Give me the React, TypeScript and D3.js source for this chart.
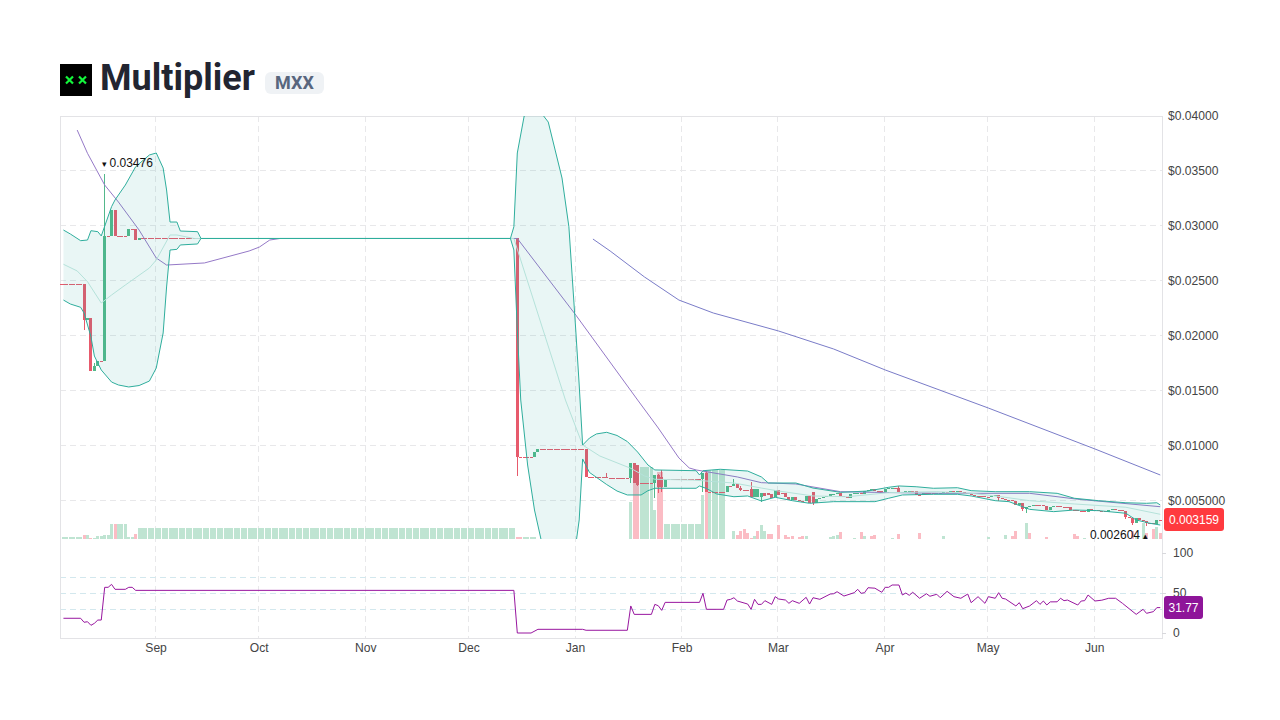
import React, { useEffect, useRef } from "react";
import * as d3 from "d3";

const rep = (v: number, n: number): number[] => Array(n).fill(v);

// one entry per day, day 0 is 4 Aug
const closes = [
  ...rep(0.02465, 7), 0.02141, 0.02159, 0.01677, 0.01722, 0.01768, 0.01768, 0.02907, 0.02907, 0.03144, 0.02907,
  0.02907, 0.02907, 0.02907, 0.0297, 0.0297, 0.0287, ...rep(0.02884, 110),
  0.00893, ...rep(0.00893, 4), 0.00938, 0.00966, ...rep(0.00966, 13), 0.00711, ...rep(0.00711, 5), 0.00699,
  ...rep(0.00699, 6), 0.00838, 0.00656, 0.00638, ...rep(0.00653, 4), 0.00729, 0.0062, 0.0062, 0.00692,
  ...rep(0.00692, 10), 0.0075, 0.00577, ...rep(0.00577, 5), 0.00629, 0.00629, 0.00651, 0.00606, 0.00592, 0.00588,
  0.00583, 0.00526, 0.00599, 0.00599, 0.00564, 0.00538, 0.00544, 0.0052, 0.00591, 0.00546, 0.00555, 0.00531, 0.005,
  0.00531, 0.005, 0.00495, 0.00491, 0.00541, 0.00473, 0.00473, 0.00509, 0.00518, 0.00527, 0.00536, 0.00555, 0.00559,
  0.00564, 0.00541, 0.00525, 0.00523, 0.00559, 0.00567, 0.00568, 0.00555, 0.00582, 0.00591, 0.00605, 0.00585, 0.00582,
  0.00567, 0.00605, 0.00609, 0.00614, 0.00614, 0.00567, 0.00573, 0.00582, 0.00585, 0.00585, 0.0055, 0.0055, 0.00568,
  0.00568, 0.00564, 0.00559, 0.00561, 0.00568, 0.0057, 0.0057, 0.00582, 0.00577, 0.00582, 0.00573, 0.00561, 0.00555,
  0.00543, 0.00541, 0.00541, 0.00536, 0.00525, 0.00525, 0.00541, 0.00546, 0.00515, 0.00509, 0.00505, 0.005, 0.00495,
  0.00454, 0.00473, 0.00418, 0.00436, 0.0045, 0.00454, 0.00454, 0.00454, 0.0045, 0.00409, 0.00436, 0.00445, 0.00445,
  0.00441, 0.00436, 0.00436, 0.00409, 0.00409, 0.00404, 0.004, 0.00395, 0.00418, 0.00409, 0.00409, 0.00404, 0.004,
  0.00395, 0.00409, 0.00418, 0.00413, 0.00409, 0.00404, 0.00345, 0.00336, 0.00293, 0.00336, 0.00318, 0.00309, 0.00293,
  0.00291, 0.00281, 0.00318, 0.003159,
];
// opens are the previous close except on these days
const gapDays = [168, 169, 175, 201, 203, 204, 206, 207, 208, 210, 211, 213, 219];
const gapOpens = [0.0082, 0.00653, 0.00711, 0.00599, 0.00526, 0.00527, 0.00566, 0.00556, 0.00531, 0.00566, 0.00561, 0.005, 0.00573];

const wickDays = [7, 10, 13, 133, 159, 166, 168, 173, 174, 175, 187, 188, 196, 198, 201, 204, 219, 244, 273, 280, 281, 310, 312, 313, 316];
const wickHighs = [null, 0.01749, 0.03476, null, 0.0075, null, null, null, 0.00738, 0.00775, null, 0.00765, 0.00688, 0.00629, 0.00668, null, null, 0.00632, null, null, null, null, null, null, null];
const wickLows = [0.0205, null, null, 0.0072, null, 0.00659, 0.00629, 0.00519, 0.00565, 0.00574, 0.00577, null, null, 0.00579, null, 0.00486, 0.00455, null, 0.00495, 0.004, 0.00379, 0.0033, 0.00275, 0.0029, 0.002604];

const volumes = [
  0, ...rep(1.7, 6), 3.7, 3.7, 1, 1.3, 2.7, 3.3, 3.7, 3.7, ...rep(15.3, 5), 2, 2, 5.3, ...rep(10.7, 110), ...rep(1.7, 6),
  ...rep(0.3, 27), 36.7, 73, 72, ...rep(72, 4), 29, 67, 67, ...rep(15, 11), 44, 69, ...rep(69, 5), 0.3, 0.3,
  8.3, 4.3, 7.7, 10, 6.3, 1, 3, 8.3, 14, 7.7, 5, 5, 0.3, 14, 0.3, 4.3, 2.3, 3.3, 0.3, 1.7, 3.3, 3.3, ...rep(0.3, 6),
  2.3, 3.3, 4.3, 7.3, 0.3, 0.3, 0.3, 1, 0.3, 7.3, 2.7, 0.3, 3.3, 4.3, 0.3, 0.3, 0.3, 0.3, 1, 0.3, 5, ...rep(0.3, 5), 6,
  ...rep(0.3, 6), 3.3, ...rep(0.3, 12), 2, ...rep(0.3, 4), 4, 0.3, 3.3, 7.7, 0.3, 0.3, 16.3, 5.7, ...rep(0.3, 4), 2.3,
  ...rep(0.3, 7), 5, 3, 0.3, 1, ...rep(0.3, 13), 7.7, 3, 0.3, 16, 6, 0.3, 10, 12, 5.7,
];
const redVolumeDays = [7, 9, 16, 22, 133, 134, 167, 168, 174, 175, 188, 197, 198, 199, 200, 201, 203, 206, 207, 209, 211, 212, 213, 215, 216, 227, 233, 236, 237, 244, 250, 277, 278, 282, 287, 295, 296, 312, 316, 318, 320];

const upperDays = [1, 3, 6, 8, 9, 11, 12, 15, 16, 19, 22, 26, 28, 30, 31, 32, 34, 35, 40, 41, 131, 132, 133, 135, 137, 140, 142, 144, 146, 148, 150, 151, 152, 154, 156, 159, 162, 165, 168, 171, 173, 185, 186, 187, 192, 200, 204, 206, 214, 219, 227, 235, 241, 244, 249, 254, 261, 265, 272, 282, 290, 295, 302, 310, 316, 319, 320];
const upperBand = [0.02961, 0.02925, 0.02864, 0.0287, 0.02955, 0.02946, 0.02907, 0.03174, 0.03235, 0.03371, 0.03538, 0.03645, 0.03663, 0.03526, 0.03326, 0.03034, 0.03034, 0.02952, 0.02946, 0.02884, 0.02884, 0.02991, 0.03663, 0.04, 0.04036, 0.04027, 0.03945, 0.0369, 0.03435, 0.02991, 0.0205, 0.01549, 0.01002, 0.01066, 0.01103, 0.01118, 0.01089, 0.01034, 0.00938, 0.0082, 0.00775, 0.00768, 0.00729, 0.00768, 0.00781, 0.00765, 0.00711, 0.00656, 0.00656, 0.0061, 0.00571, 0.00583, 0.00617, 0.00629, 0.00622, 0.00608, 0.00613, 0.00586, 0.00577, 0.00577, 0.00562, 0.00517, 0.00495, 0.00476, 0.00471, 0.00476, 0.00456];
const lowerDays = [1, 3, 6, 7, 9, 10, 12, 15, 17, 20, 23, 26, 28, 30, 31, 32, 34, 35, 40, 41, 131, 132, 133, 134, 136, 138, 140, 142, 146, 148, 150, 151, 152, 154, 159, 162, 165, 169, 171, 173, 185, 186, 188, 191, 196, 200, 204, 208, 213, 218, 225, 237, 241, 245, 254, 261, 265, 272, 276, 282, 289, 295, 302, 310, 313, 317, 320];
const lowerBand = [0.02323, 0.02287, 0.02257, 0.02205, 0.01989, 0.01813, 0.01686, 0.01576, 0.01549, 0.01531, 0.01544, 0.01585, 0.01704, 0.02023, 0.02442, 0.02779, 0.02785, 0.02825, 0.02834, 0.02884, 0.02884, 0.02779, 0.0205, 0.01412, 0.0082, 0.0041, 0.00128, -0.00137, -0.00273, -0.00137, 0.00091, 0.00319, 0.00875, 0.00752, 0.00642, 0.00583, 0.00547, 0.00547, 0.00586, 0.00608, 0.00608, 0.00629, 0.00606, 0.00556, 0.00531, 0.00538, 0.00492, 0.00526, 0.00495, 0.00471, 0.00486, 0.00486, 0.00517, 0.00547, 0.00553, 0.00553, 0.00538, 0.00495, 0.00486, 0.00416, 0.00395, 0.0041, 0.00404, 0.0038, 0.00319, 0.00289, 0.00273];
const middleDays = [1, 5, 8, 12, 15, 19, 26, 28, 32, 34, 39, 132, 147, 152, 157, 166, 170, 173, 184, 188, 196, 204, 209, 219, 229, 241, 255, 265, 272, 282, 295, 310, 320];
const middleBand = [0.02649, 0.02588, 0.0249, 0.02296, 0.02369, 0.0246, 0.02615, 0.02688, 0.02916, 0.02916, 0.02884, 0.02884, 0.01412, 0.01002, 0.00902, 0.0079, 0.0072, 0.0069, 0.00683, 0.00674, 0.00656, 0.0061, 0.00583, 0.00538, 0.00531, 0.00568, 0.00577, 0.00562, 0.00538, 0.00495, 0.00465, 0.00435, 0.00371];

const shortMaDays = [5, 8, 13, 17, 23, 28, 31, 42, 55, 58, 61, 64, 133, 150, 168, 174, 180, 183, 185, 197, 204, 214, 227, 237, 256, 282, 296, 320];
const shortMa = [0.03872, 0.0366, 0.03371, 0.03216, 0.02961, 0.02706, 0.02642, 0.02661, 0.0277, 0.02806, 0.0287, 0.02884, 0.02884, 0.02187, 0.01412, 0.01157, 0.00884, 0.00793, 0.00775, 0.00711, 0.00659, 0.00647, 0.00577, 0.00571, 0.00562, 0.00562, 0.00508, 0.0044];
const longMaDays = [155, 160, 170, 180, 190, 209, 225, 240, 270, 301, 320];
const longMa = [0.02879, 0.0277, 0.02533, 0.02323, 0.02205, 0.02041, 0.01877, 0.01686, 0.01339, 0.00966, 0.00729];

const rsiDays = [1, 6, 7, 8, 9, 10, 11, 12, 13, 14, 15, 16, 19, 20, 21, 22, 132, 133, 137, 139, 152, 153, 165, 166, 167, 172, 173, 174, 175, 176, 186, 187, 188, 193, 194, 195, 196, 197, 200, 201, 202, 203, 204, 205, 207, 208, 209, 211, 212, 213, 215, 217, 218, 219, 221, 224, 225, 226, 228, 231, 232, 233, 234, 235, 237, 239, 240, 241, 242, 244, 245, 246, 247, 248, 250, 252, 253, 255, 256, 258, 260, 262, 264, 265, 267, 269, 270, 272, 273, 274, 275, 278, 279, 280, 282, 284, 285, 286, 287, 288, 290, 291, 292, 293, 296, 297, 298, 299, 301, 303, 305, 307, 309, 313, 315, 316, 318, 319, 320];
const rsiValues = [18.4, 18.4, 13.4, 14.1, 9.6, 12.1, 16.2, 16.2, 57.1, 57.1, 60.8, 54.6, 54.6, 57.1, 57.1, 53.3, 53.3, 0, 0, 4.6, 4.6, 3.4, 3.4, 33.8, 23.3, 23.3, 35.8, 34.1, 28.3, 38.3, 38.3, 49.6, 29.6, 29.6, 41.2, 42, 44.1, 40, 36.2, 29.6, 42.1, 35.8, 35.8, 40.4, 35.8, 45.4, 42.5, 41.2, 37.1, 40.4, 37.1, 44.6, 36.2, 44.1, 42.1, 48.7, 49.1, 51.6, 46.2, 50.4, 54.6, 49.6, 50.4, 56.6, 56, 50.9, 57.1, 57.1, 60, 60, 47.5, 50, 47.1, 50.9, 43.4, 49.1, 45.9, 48.4, 44.1, 52.1, 45.4, 43.4, 48.7, 37.9, 45.4, 37.1, 45.4, 43.4, 50.4, 43.4, 42.5, 33.8, 37.9, 30.4, 33.8, 40.4, 35.8, 40, 35, 38.9, 39, 43.4, 40.4, 41.2, 35, 40, 40.4, 47.5, 40, 41, 43.4, 43.4, 37.1, 23.3, 29.6, 24.6, 26.7, 31.7, 31.77];

const priceTicks = [0.005, 0.01, 0.015, 0.02, 0.025, 0.03, 0.035, 0.04];
const rsiGrid = [30, 50, 70];
const rsiTicks = [0, 50, 100];
const highLabel = "0.03476";
const lowLabel = "0.002604";
const lastPriceLabel = "0.003159";
const lastRsiLabel = "31.77";

const GREEN = "#53b88b";
const RED = "#e75a6c";
const TEAL = "#2fae9d";
const AXIS_FONT = "'Liberation Sans', Arial, sans-serif";
const MONTH_SHIFT = -0.7;

const App: React.FC = () => {
  const svgRef = useRef<SVGSVGElement>(null);

  useEffect(() => {
    if (!svgRef.current) return;
    const svg = d3.select(svgRef.current);
    svg.selectAll("*").remove();

    const left = 60;
    const right = 1162;
    const top = 116;
    const priceBottom = 539;
    const bottom = 638;

    const start = new Date(2022, 7, 4);
    const dayOf = (i: number) => d3.timeDay.offset(start, i);
    const x = d3
      .scaleTime()
      .domain([start, new Date(2023, 5, 20, 12)])
      .range([left, right]);
    const xd = (i: number) => x(dayOf(i));
    const y = d3.scaleLinear().domain([0, 0.04]).range([555, top]);
    const yVol = d3.scaleLinear().domain([0, 73]).range([priceBottom, priceBottom - 73]);
    const yRsi = d3.scaleLinear().domain([0, 100]).range([633, 553]);

    svg
      .append("defs")
      .append("clipPath")
      .attr("id", "price-clip")
      .append("rect")
      .attr("x", left)
      .attr("y", top)
      .attr("width", right - left)
      .attr("height", priceBottom - top);

    // header
    svg.append("rect").attr("x", 60).attr("y", 64).attr("width", 32).attr("height", 32).attr("fill", "#000");
    [69.5, 82.5].forEach((cx) => {
      svg
        .append("path")
        .attr("d", `M${cx - 3.5},76.5L${cx + 3.5},83.5M${cx + 3.5},76.5L${cx - 3.5},83.5`)
        .attr("stroke", "#14f53c")
        .attr("stroke-width", 2.2);
    });
    svg
      .append("text")
      .attr("x", 100)
      .attr("y", 90)
      .style("font-family", "Roboto, sans-serif")
      .style("font-size", "36px")
      .style("font-weight", 700)
      .style("fill", "#222531")
      .text("Multiplier");
    svg.append("rect").attr("x", 265).attr("y", 72).attr("width", 59).attr("height", 22).attr("rx", 6).attr("fill", "#eff2f5");
    svg
      .append("text")
      .attr("x", 294.5)
      .attr("y", 89)
      .attr("text-anchor", "middle")
      .style("font-family", "Roboto, sans-serif")
      .style("font-size", "18px")
      .style("font-weight", 700)
      .style("fill", "#58667e")
      .text("MXX");

    // grid
    const months = d3.timeMonth.range(new Date(2022, 8, 1), new Date(2023, 5, 2));
    const grid = svg.append("g").attr("shape-rendering", "crispEdges");
    months.forEach((m) => {
      grid
        .append("line")
        .attr("x1", x(m) + MONTH_SHIFT)
        .attr("x2", x(m) + MONTH_SHIFT)
        .attr("y1", top)
        .attr("y2", bottom)
        .attr("stroke", "#e8e8ea")
        .attr("stroke-dasharray", "6,4");
    });
    priceTicks.forEach((t) => {
      grid
        .append("line")
        .attr("x1", left)
        .attr("x2", right)
        .attr("y1", y(t))
        .attr("y2", y(t))
        .attr("stroke", "#e8e8ea")
        .attr("stroke-dasharray", "6,4");
    });
    rsiGrid.forEach((t) => {
      grid
        .append("line")
        .attr("x1", left)
        .attr("x2", right)
        .attr("y1", yRsi(t))
        .attr("y2", yRsi(t))
        .attr("stroke", "#d3e8ee")
        .attr("stroke-dasharray", "6,4");
    });
    grid
      .append("path")
      .attr("d", `M${left},${bottom}V${top}H${right}V${bottom}Z`)
      .attr("fill", "none")
      .attr("stroke", "#e3e3e6");

    const price = svg.append("g").attr("clip-path", "url(#price-clip)");

    // volume
    price
      .append("g")
      .attr("shape-rendering", "crispEdges")
      .selectAll("rect")
      .data(volumes)
      .join("rect")
      .attr("x", (_d, i) => Math.round(xd(i) - 1.5))
      .attr("width", 3)
      .attr("y", (d) => yVol(d))
      .attr("height", (d) => priceBottom - yVol(d))
      .attr("fill", (_d, i) => (redVolumeDays.includes(i) ? "#fbbcc4" : "#bfe4d2"));

    // candles
    const openOf = (i: number) => {
      const g = gapDays.indexOf(i);
      if (g >= 0) return gapOpens[g];
      return i === 0 ? closes[0] : closes[i - 1];
    };
    const isUp = (i: number) => closes[i] > openOf(i);
    const candles = price.append("g").attr("shape-rendering", "crispEdges");
    wickDays.forEach((day, k) => {
      const hi = wickHighs[k] ?? Math.max(openOf(day), closes[day]);
      const lo = wickLows[k] ?? Math.min(openOf(day), closes[day]);
      candles
        .append("rect")
        .attr("x", Math.round(xd(day) - 0.5))
        .attr("width", 1)
        .attr("y", y(hi))
        .attr("height", y(lo) - y(hi))
        .attr("fill", isUp(day) ? GREEN : RED);
    });
    closes.forEach((c, i) => {
      const o = openOf(i);
      const y0 = Math.round(y(Math.max(o, c)));
      const y1 = Math.round(y(Math.min(o, c)));
      candles
        .append("rect")
        .attr("x", Math.round(xd(i) - 1.5))
        .attr("width", 3)
        .attr("y", y0)
        .attr("height", Math.max(1, y1 - y0))
        .attr("fill", isUp(i) ? GREEN : RED);
    });

    const line = d3
      .line<[number, number]>()
      .x((d) => xd(d[0]))
      .y((d) => y(d[1]));

    // moving averages
    price
      .append("path")
      .attr("d", line(shortMaDays.map((d, i) => [d, shortMa[i]] as [number, number])))
      .attr("fill", "none")
      .attr("stroke", "#9579c7")
      .attr("stroke-width", 1);
    price
      .append("path")
      .attr("d", line(longMaDays.map((d, i) => [d, longMa[i]] as [number, number])))
      .attr("fill", "none")
      .attr("stroke", "#7a7cc8")
      .attr("stroke-width", 1);

    // bollinger bands
    const upperPts = upperDays.map((d, i) => [d, upperBand[i]] as [number, number]);
    const lowerPts = lowerDays.map((d, i) => [d, lowerBand[i]] as [number, number]);
    price
      .append("path")
      .attr("d", `${line([...upperPts, ...lowerPts.slice().reverse()])}Z`)
      .attr("fill", "rgba(38,166,154,0.1)");
    price
      .append("path")
      .attr("d", line(middleDays.map((d, i) => [d, middleBand[i]] as [number, number])))
      .attr("fill", "none")
      .attr("stroke", "#b5e2da")
      .attr("stroke-width", 1);
    [upperPts, lowerPts].forEach((pts) => {
      price.append("path").attr("d", line(pts)).attr("fill", "none").attr("stroke", TEAL).attr("stroke-width", 1);
    });

    // high and low annotations
    const note = (tx: number, ty: number, anchor: string, s: string) =>
      svg
        .append("text")
        .attr("x", tx)
        .attr("y", ty)
        .attr("text-anchor", anchor)
        .style("font-family", AXIS_FONT)
        .style("font-size", "12px")
        .style("fill", "#111")
        .text(s);
    note(xd(13), 167, "middle", "▾").style("font-size", "9px");
    note(109.5, 167, "start", highLabel);
    note(1140, 539, "end", lowLabel);
    note(xd(316) - 1.5, 539, "middle", "▴").style("font-size", "9px");

    // rsi
    svg
      .append("path")
      .attr(
        "d",
        d3
          .line<number>()
          .x((d) => xd(d))
          .y((_d, i) => yRsi(rsiValues[i]))(rsiDays),
      )
      .attr("fill", "none")
      .attr("stroke", "#98169f")
      .attr("stroke-width", 1);

    // axes
    const priceAxis = svg
      .append("g")
      .attr("transform", `translate(${right},0)`)
      .call(
        d3
          .axisRight(y)
          .tickValues(priceTicks)
          .tickSize(0)
          .tickPadding(6)
          .tickFormat((d) => `$${(d as number) === 0.005 ? "0.005000" : (d as number).toFixed(5)}`),
      );
    const rsiAxis = svg
      .append("g")
      .attr("transform", `translate(${right},0)`)
      .call(d3.axisRight(yRsi).tickValues(rsiTicks).tickSize(4).tickPadding(7));
    const monthAxis = svg
      .append("g")
      .attr("transform", `translate(${MONTH_SHIFT},${bottom})`)
      .call(
        d3
          .axisBottom(x)
          .tickValues(months)
          .tickSize(0)
          .tickPadding(5)
          .tickFormat((d) => d3.timeFormat("%b")(d as Date)),
      );
    [priceAxis, rsiAxis, monthAxis].forEach((a) => {
      a.select(".domain").remove();
      a.selectAll("text").style("font-family", AXIS_FONT).style("font-size", "12.1px").style("fill", "#444");
      a.selectAll(".tick line").style("stroke", "#d8d8dc");
    });

    // last value labels
    const tag = (tagX: number, tagY: number, w: number, h: number, fill: string, s: string) => {
      svg.append("rect").attr("x", tagX).attr("y", tagY).attr("width", w).attr("height", h).attr("rx", 3).attr("fill", fill);
      svg
        .append("text")
        .attr("x", tagX + w / 2)
        .attr("y", tagY + h / 2 + 4)
        .attr("text-anchor", "middle")
        .style("font-family", AXIS_FONT)
        .style("font-size", "12px")
        .style("fill", "#fff")
        .text(s);
    };
    tag(1164, 508, 60, 23, "#ff3a3f", lastPriceLabel);
    tag(1164, 596, 39, 23, "#8e1599", lastRsiLabel);
  }, []);

  return <svg ref={svgRef} width={1280} height={720} style={{ position: "absolute", left: 0, top: 0, display: "block" }} />;
};

export default App;
